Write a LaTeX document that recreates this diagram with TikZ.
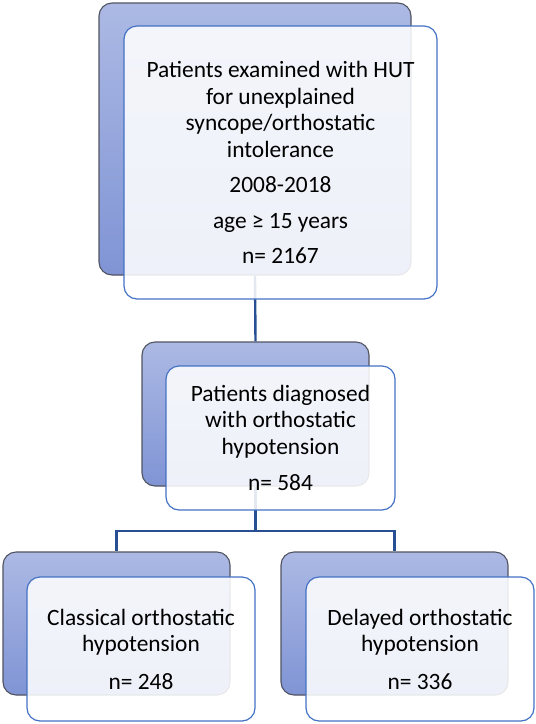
\documentclass[tikz,border=0pt]{standalone}
\usepackage{fontspec}
\setmainfont{Carlito}
\usepackage{tikz}
\usetikzlibrary{arrows}

\definecolor{backtop}{RGB}{172,185,228}
\definecolor{backbottom}{RGB}{128,148,213}
\definecolor{backedge}{RGB}{80,84,96}
\definecolor{frontedge}{RGB}{68,114,196}
\definecolor{linkblue}{RGB}{40,78,148}

\begin{document}
\begin{tikzpicture}
		[x=1pt,y=-1pt,
		backbox/.style={rectangle,rounded corners=13pt,draw=backedge,line width=1.1pt,top color=backtop,bottom color=backbottom,inner sep=0pt},
		frontbox/.style={rectangle,rounded corners=13pt,draw=frontedge,line width=1.2pt,fill=white,fill opacity=0.87,text opacity=1,align=center,inner sep=0pt,font=\fontsize{23.4}{26.5}\selectfont},
		link/.style={draw=linkblue,line width=2.4pt}]
		\useasboundingbox (0,0) rectangle (536,724);
		\node[backbox,minimum width=312pt,minimum height=272pt] (topback) at (255,139) {};
		\node[backbox,minimum width=227pt,minimum height=144pt] (midback) at (255.5,414) {};
		\node[backbox,minimum width=227pt,minimum height=143pt] (leftback) at (116.5,623.5) {};
		\node[backbox,minimum width=227pt,minimum height=143pt] (rightback) at (394.5,623.5) {};
		\coordinate (split) at (255.5,531);
		
		\draw[link] (topback.south) -- (midback.north);
		\draw[link] (midback.south) -- (split) -| (leftback.north);
		\draw[link] (split) -| (rightback.north);
		
		\node[frontbox,minimum width=313pt,minimum height=273pt] (topfront) at (280.5,162.5)
			{Patients examined with HUT\\for unexplained\\syncope/orthostatic\\intolerance\\[9pt]2008-2018\\[9pt]age ≥ 15 years\\[9pt]n= 2167};
		\node[frontbox,minimum width=229pt,minimum height=144pt] (midfront) at (280.5,438)
			{Patients diagnosed\\with orthostatic\\hypotension\\[10pt]n= 584};
		\node[frontbox,minimum width=228pt,minimum height=144pt] (leftfront) at (141,649)
			{Classical orthostatic\\hypotension\\[11pt]n= 248};
		\node[frontbox,minimum width=228pt,minimum height=144pt] (rightfront) at (420,649)
			{Delayed orthostatic\\hypotension\\[11pt]n= 336};
		\end{tikzpicture}
\end{document}
